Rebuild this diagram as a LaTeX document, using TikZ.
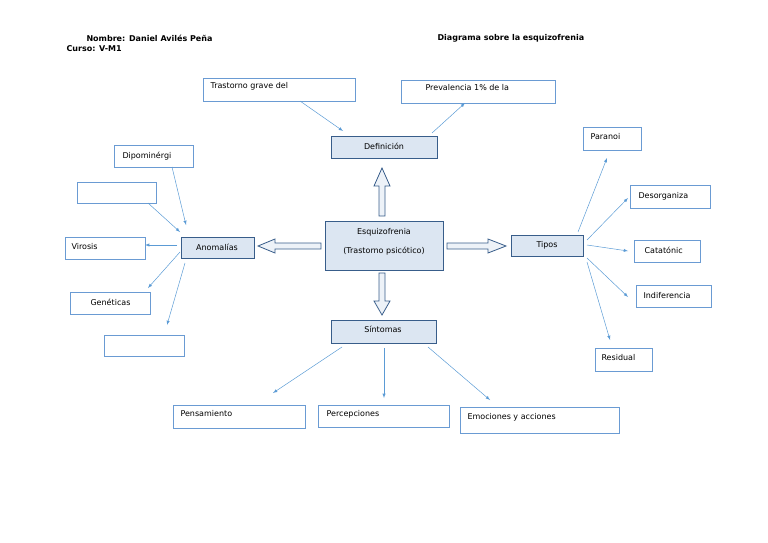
\documentclass[tikz,border=0pt]{standalone}
\usepackage{fontspec}
\setmainfont{DejaVu Sans}
\definecolor{bfill}{HTML}{DCE6F2}
\definecolor{bedge}{HTML}{385D8A}
\definecolor{ledge}{HTML}{6A9BD3}
\definecolor{aline}{HTML}{5B9BD5}
\begin{document}
\begin{tikzpicture}[x=1pt,y=-1pt,
 bx/.style={draw=ledge,line width=0.8pt,fill=white,inner sep=0pt},
 mb/.style={draw=bedge,line width=1pt,fill=bfill,inner sep=0pt},
 ar/.style={draw=aline,line width=0.5pt,-latex},
 ha/.style={draw=bedge,line width=0.8pt,fill=bfill!50},
 t/.style={font=\fontsize{8}{9}\selectfont,anchor=west}]
\useasboundingbox (0,0) rectangle (768,543);
\node[t,font=\bfseries\fontsize{8}{9}\selectfont] (h1) at (83,38) {Nombre: Daniel Avilés Peña};
\node[t,font=\bfseries\fontsize{8}{9}\selectfont] (h2) at (63,49) {Curso: V-M1};
\node[t,font=\bfseries\fontsize{8}{9}\selectfont] (h3) at (434,38) {Diagrama sobre la esquizofrenia};
% boxes
\draw[bx] (203,78) rectangle (355,101); \node[t] (tg) at (207,86) {Trastorno grave del};
\draw[bx] (401,80) rectangle (555,103); \node[t] (pv) at (422,88) {Prevalencia 1\% de la};
\draw[mb] (331,136) rectangle (437,158); \node[t,anchor=center] (def) at (384,146) {Definición};
\draw[bx] (114,145) rectangle (193,167); \node[t] (dip) at (119,156) {Dipominérgi};
\draw[bx] (77,182) rectangle (156,203); \coordinate (emp) at (116,192);
\draw[bx] (65,237) rectangle (145,259); \node[t] (vir) at (68,247) {Virosis};
\draw[mb] (181,237) rectangle (254,258); \node[t,anchor=center] (ano) at (217,247) {Anomalías};
\draw[bx] (70,292) rectangle (150,314); \node[t] (gen) at (87,302) {Genéticas};
\draw[bx] (104,335) rectangle (184,356); \coordinate (bl) at (144,345);
\draw[mb] (325,221) rectangle (443,270);
\node[t,anchor=center] (esq) at (384,232) {Esquizofrenia};
\node[t,anchor=center] (esq2) at (384,251) {(Trastorno psicótico)};
\draw[mb] (511,235) rectangle (583,256); \node[t,anchor=center] (tip) at (547,245) {Tipos};
\draw[bx] (583,127) rectangle (641,150); \node[t] (par) at (587,137) {Paranoi};
\draw[bx] (630,185) rectangle (710,208); \node[t] (des) at (635,196) {Desorganiza};
\draw[bx] (634,240) rectangle (700,262); \node[t] (cat) at (641,250) {Catatónic};
\draw[bx] (636,285) rectangle (711,307); \node[t] (ind) at (640,296) {Indiferencia};
\draw[bx] (595,348) rectangle (652,371); \node[t] (res) at (598,358) {Residual};
\draw[mb] (331,320) rectangle (436,343); \node[t,anchor=center] (sin) at (383,329) {Síntomas};
\draw[bx] (173,405) rectangle (305,428); \node[t] (pen) at (177,414) {Pensamiento};
\draw[bx] (318,405) rectangle (449,427); \node[t] (per) at (323,414) {Percepciones};
\draw[bx] (460,407) rectangle (619,433); \node[t] (emo) at (464,417) {Emociones y acciones};
% thin arrows
\draw[ar] (300,101) -- (343,131);
\draw[ar] (432,133) -- (465,103);
\draw[ar] (172,167) -- (186,225);
\draw[ar] (148,203) -- (180,232);
\draw[ar] (177,245) -- (145,245);
\draw[ar] (180,252) -- (148,288);
\draw[ar] (185,263) -- (167,325);
\draw[ar] (342,347) -- (273,393);
\draw[ar] (384,348) -- (384,398);
\draw[ar] (428,347) -- (490,400);
\draw[ar] (578,232) -- (607,158);
\draw[ar] (587,240) -- (628,198);
\draw[ar] (587,245) -- (628,251);
\draw[ar] (587,258) -- (628,297);
\draw[ar] (587,262) -- (610,340);
% hollow block arrows
\draw[ha] (379,216) -- (379,186) -- (374,186) -- (382,168) -- (390,186) -- (385,186) -- (385,216) -- cycle;
\draw[ha] (379,273) -- (379,301) -- (374,301) -- (382,315) -- (390,301) -- (385,301) -- (385,273) -- cycle;
\draw[ha] (321,243) -- (275,243) -- (275,239) -- (258,246) -- (275,253) -- (275,249) -- (321,249) -- cycle;
\draw[ha] (447,243) -- (488,243) -- (488,239) -- (506,246) -- (488,253) -- (488,249) -- (447,249) -- cycle;
\end{tikzpicture}
\end{document}
